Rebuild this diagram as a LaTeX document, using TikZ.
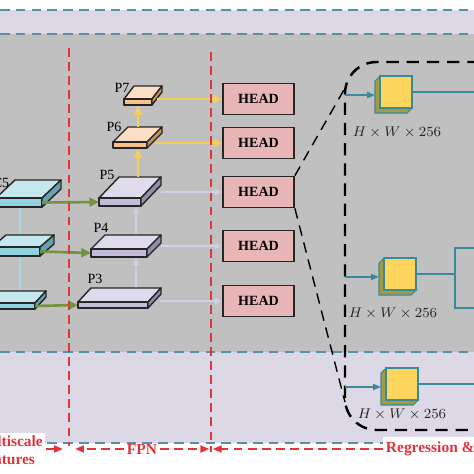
\documentclass[tikz,border=0pt]{standalone}
\usepackage{fontspec}
\setmainfont{Liberation Serif}
\usetikzlibrary{arrows.meta}

\definecolor{bggray}{HTML}{C0C0C0}
\definecolor{bandlav}{HTML}{DCD8E6}
\definecolor{bandline}{HTML}{5B8FA3}
\definecolor{redline}{HTML}{E2343A}
\definecolor{cfeat}{HTML}{7FC9D9}
\definecolor{pfeat}{HTML}{B9AFD4}
\definecolor{pextra}{HTML}{F6B67A}
\definecolor{headpink}{HTML}{E8B6B6}
\definecolor{arrgreen}{HTML}{76923C}
\definecolor{arryellow}{HTML}{F4CF5A}
\definecolor{faintlav}{HTML}{D4CDE4}
\definecolor{faintcyan}{HTML}{A8D8E4}
\definecolor{cubeyellow}{HTML}{FCD65C}
\definecolor{cubeside}{HTML}{A39A42}
\definecolor{cubeline}{HTML}{3A8A9C}

\tikzset{
  slabline/.style={draw=black!85, line width=0.8pt, line join=round},
  head/.style={draw=black!85, line width=1pt, fill=headpink, minimum width=1.42cm,
    minimum height=0.62cm, inner sep=0pt, font=\footnotesize\bfseries},
  plabel/.style={font=\footnotesize, inner sep=0pt},
  dimlabel/.style={font=\footnotesize, text=black!85, inner sep=0pt},
  band/.style={bandline, line width=0.7pt, dash pattern=on 5.5pt off 3.5pt},
  split/.style={redline, line width=0.9pt, dash pattern=on 5pt off 3pt},
  greenarr/.style={arrgreen, line width=1.5pt, -{Triangle[length=5.5pt,width=5pt]}},
  yellowarr/.style={arryellow, line width=1.2pt, -{Triangle[length=5pt,width=4.5pt]}},
  faintarr/.style={faintlav, line width=1pt, -{Triangle[length=4pt,width=3.5pt]}},
  cubelink/.style={cubeline, line width=0.8pt},
  cubearr/.style={cubeline, line width=0.8pt, -{Triangle[length=4.5pt,width=3.5pt]}},
  regdash/.style={black, line width=1.4pt, dash pattern=on 7pt off 4.5pt},
  headdash/.style={black, line width=0.8pt, dash pattern=on 6pt off 4pt},
  stagelab/.style={text=redline, font=\fontsize{8.8}{10.2}\selectfont\bfseries, align=center, inner sep=1.5pt},
  stagearr/.style={redline, line width=0.9pt, -{Triangle[length=5pt,width=4pt]}},
}

% slab: name, colour, x, y (front top left), width, thickness, depth x, depth y
\newcommand{\slab}[8]{%
  \filldraw[slabline, fill=#2!45!white] (#3,#4) -- ++(#5,0) -- ++(#7,-#8) -- ++(-#5,0) -- cycle;
  \filldraw[slabline, fill=#2!85!white] (#3,#4) rectangle ++(#5,#6);
  \filldraw[slabline, fill=#2!80!black] (#3+#5,#4) -- ++(#7,-#8) -- ++(0,#6) -- ++(-#7,#8) -- cycle;
  \coordinate (#1-w) at (#3,#4+#6/2);
  \coordinate (#1-e) at (#3+#5,#4+#6/2);
  \coordinate (#1-side) at (#3+#5+#7/2,#4-#8/2+#6/2);
}

% featcube: name, x, y (front square top left)
\newcommand{\featcube}[3]{%
  \filldraw[fill=cubeside, draw=cubeline, line width=0.6pt] (#2,#3) -- ++(-5,5) -- ++(0,32)
    -- ++(32,0) -- ++(5,-5) -- ++(-32,0) -- cycle;
  \filldraw[fill=cubeyellow, draw=cubeline, line width=0.6pt] (#2,#3) rectangle ++(32,32);
  \coordinate (#1-w) at (#2-5,#3+19);
  \coordinate (#1-e) at (#2+32,#3+16);
}

\begin{document}
\begin{tikzpicture}[x=0.02cm, y=-0.02cm]
  \clip (0,0) rectangle (474,474);
  % backgrounds
  \fill[white] (0,0) rectangle (474,474);
  \fill[bandlav] (0,10) rectangle (474,34);
  \fill[bggray] (0,34) rectangle (474,352);
  \fill[bandlav] (0,352) rectangle (474,443);
  \draw[band] (0,10) -- (474,10);
  \draw[band] (0,34) -- (474,34);
  \draw[band] (0,352) -- (474,352);
  \draw[band] (0,443) -- (474,443);

  % heads
  \node[head] (head1) at (258.5,99) {HEAD};
  \node[head] (head2) at (258.5,143) {HEAD};
  \node[head] (head3) at (258.5,192) {HEAD};
  \node[head] (head4) at (258.5,246) {HEAD};
  \node[head] (head5) at (258.5,301) {HEAD};

  % faint links behind the slabs
  \draw[faintcyan, line width=1pt] (20,292) -- (20,257);
  \draw[faintcyan, line width=1pt] (20,235) -- (20,207);
  \draw[faintarr] (136,288) -- (136,258);
  \draw[faintarr] (136,235) -- (136,207);
  \draw[faintarr] (161,192) -- (head3.west);
  \draw[faintarr] (161,246) -- (head4.west);
  \draw[faintarr] (160,301) -- (head5.west);

  % backbone features
  \slab{c5}{cfeat}{-4}{198}{46}{9}{19}{18}
  \slab{c4}{cfeat}{-8}{247}{48}{9}{14}{12}
  \slab{c3}{cfeat}{-12}{303}{47}{6}{11}{12}
  \node[plabel] (c5lab) at (1,183) {C5};

  % pyramid
  \slab{p5}{pfeat}{99}{198}{42}{8}{20}{21}
  \slab{p4}{pfeat}{91}{249}{56}{8}{14}{14}
  \slab{p3}{pfeat}{78}{302}{70}{6}{13}{14}
  \slab{p6}{pextra}{113}{142}{34}{6}{15}{15}
  \slab{p7}{pextra}{124}{99}{28}{6}{10}{13}
  \node[plabel] (p7lab) at (122,88) {P7};
  \node[plabel] (p6lab) at (114,127) {P6};
  \node[plabel] (p5lab) at (107,175) {P5};
  \node[plabel] (p4lab) at (101,228) {P4};
  \node[plabel] (p3lab) at (95,279) {P3};

  \draw[greenarr] (c5-e) -- (p5-w);
  \draw[greenarr] (c4-e) -- (p4-w);
  \draw[greenarr] (c3-e) -- (p3-w);

  \coordinate (p5top) at (138,177);
  \coordinate (p6bot) at (138,149);
  \coordinate (p6top) at (138,127);
  \coordinate (p7bot) at (138,106);
  \draw[yellowarr] (p5top) -- (p6bot);
  \draw[yellowarr] (p6top) -- (p7bot);
  \draw[yellowarr] (p7-side |- head1) -- (head1.west);
  \draw[yellowarr] (p6-side |- head2) -- (head2.west);

  % regression and classification branch
  \coordinate (regtop) at (345,88);
  \coordinate (regbot) at (345,402);
  \draw[regdash, rounded corners=18pt] (520,62) -- (345,62) -- (345,430) -- (520,430);
  \draw[headdash] (head3.north east) -- (regtop);
  \draw[headdash] (head3.south east) -- (regbot);

  \featcube{cube1}{380}{76}
  \featcube{cube2}{384}{258}
  \featcube{cube3}{386}{368}
  \coordinate (regin) at (345,0);
  \draw[cubearr] (regin |- cube1-w) -- (cube1-w);
  \draw[cubearr] (regin |- cube2-w) -- (cube2-w);
  \draw[cubearr] (regin |- cube3-w) -- (cube3-w);
  \draw[cubelink] (cube1-e) -- ++(80,0);
  \draw[cubelink] (cube3-e) -- ++(80,0);
  \draw[cubelink] (cube2-e) -- ++(39,0) coordinate (fork);
  \draw[cubelink] (490,248) -- (fork |- 0,248) -- (fork |- 0,308) -- (490,308);
  \node[dimlabel] (dim1) at (397,132) {$H\times W\times 256$};
  \node[dimlabel] (dim2) at (393,313) {$H\times W\times 256$};
  \node[dimlabel] (dim3) at (402,414) {$H\times W\times 256$};

  % stage splits
  \draw[split] (69,48) -- (69,446);
  \draw[split] (211,52) -- (211,452);

  % stage labels
  \coordinate (s1b) at (69,449);
  \coordinate (s2b) at (211,449);
  \node[stagelab, fill=white] (mslab) at (8.5,450) {Multiscale\\features};
  \node[stagelab] (fpnlab) at (142,449) {FPN};
  \node[stagelab, fill=white, inner ysep=2.5pt, anchor=west] (reglab) at (383,449) {Regression \& Classification};
  \draw[stagearr] (mslab.east |- s1b) -- ([xshift=-3.5pt]s1b);
  \draw[stagearr, dash pattern=on 5pt off 3pt] (fpnlab.west) -- ([xshift=3.5pt]s1b);
  \draw[stagearr, dash pattern=on 5pt off 3pt] (fpnlab.east) -- ([xshift=-1pt]s2b);
  \draw[stagearr, dash pattern=on 5pt off 3pt] (reglab.west) -- ([xshift=1pt]s2b);
\end{tikzpicture}
\end{document}
